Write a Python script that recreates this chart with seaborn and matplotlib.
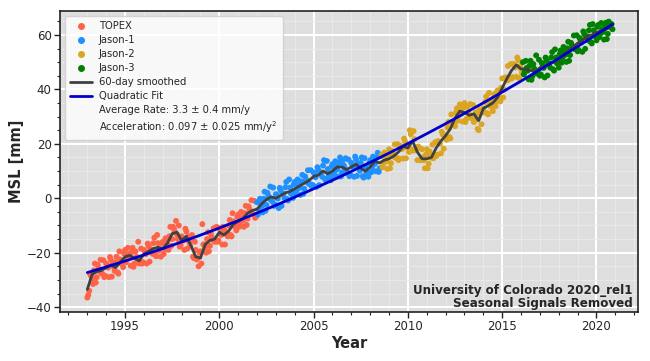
import numpy as np
import pandas as pd
import matplotlib
matplotlib.use("Agg")
import matplotlib.pyplot as plt
from matplotlib.lines import Line2D
from matplotlib.ticker import MultipleLocator
import seaborn as sns

# GMSL cycles: "_a" every 0.1 year from the start,
# "_b" the cycles in between (start + 0.05)
topex_start = 1993.0
topex_msl_a = [-36.5, -34, -28.5, -31.5, -24, -29, -25.8, -22.6, -27.8, -29,
               -24, -25.5, -21.6, -28.8, -25.2, -23.5, -27.2, -19.5, -24, -25.3,
               -19, -22.2, -20.5, -24.8, -18.2, -24, -21.5, -16, -23.5, -24,
               -19, -20.5, -16.7, -23.3, -18.9, -16.5, -20.8, -13.5, -19.3, -21.5,
               -16, -18.7, -16.3, -19, -10.5, -15, -11.5, -8.3, -15, -17.8,
               -14, -15.5, -11.2, -18.5, -16, -15.5, -21.5, -16, -22.5, -25,
               -19.5, -9.5, -17, -20, -12.5, -17.5, -14.3, -11, -15.5, -16,
               -11, -13.5, -10.5, -17, -12.5, -10, -13.5, -5.5, -10.3, -11.8,
               -6, -9, -7.2, -10.5, -2.8, -7.5, -4, -0.7, -5.9, -7.2]
topex_msl_b = [-35.5, -28, -29.5, -26.5, -31, -24.5, -26.8, -27.6, -22.8, -28.5,
               -24.5, -29, -22.6, -24.3, -26.7, -21.5, -27.7, -22.5, -23.5, -20.3,
               -23.5, -18.2, -21.5, -19.8, -25.2, -19.5, -22.5, -24, -18.5, -23.5,
               -19.5, -24, -17.7, -18.8, -20.4, -14.5, -21.3, -16.5, -18.8, -16.5,
               -20.5, -14.7, -17.3, -14, -17.5, -10.5, -12.5, -13.3, -10, -17.3,
               -14.5, -19, -12.2, -14, -17.5, -13.5, -22, -19, -22, -20,
               -24, -17, -18, -15, -19.5, -13, -15.3, -16, -10.5, -15.5,
               -11.5, -17, -11.5, -12.5, -14, -8, -14, -8.5, -9.8, -6.8,
               -10.5, -5, -8.2, -5.5, -9.8, -3, -5, -5.7, -0.9, -6.7]

jason1_start = 2002.0
jason1_msl_a = [-1.5, -4.2, -1.9, -5.2, 2.4, -2.5, 0.9, 4.3, -1.1, -2.8,
                1.5, -0.1, 3.8, -2.8, 1.6, 4, -0.3, 6.9, 1.7, 0.1,
                6, 2.9, 4.8, 1.2, 8.6, 3.5, 6.9, 10.3, 5.3, 4.4,
                9.5, 7.7, 11.4, 4.8, 9.4, 12, 7.1, 13.7, 8.2, 6.6,
                12.5, 9.6, 11.7, 8, 15, 9.5, 12.1, 14.7, 9.2, 8.1,
                13, 11.4, 15.3, 8.2, 11.6, 13, 8.1, 14.7, 9.3, 7.9,
                14, 11.3, 13.6, 9.9, 16.7, 11]
jason1_msl_b = [-6, -0.2, -2.9, -0.2, -4.6, 2, -0.1, -0.7, 3.9, -2.3,
                1, -3.6, 2.8, 1.7, 0.1, 6, -0.8, 3.9, 2.2, 5.1,
                1.5, 6.9, 3.8, 6.2, 1.6, 8, 5.9, 5.3, 10.3, 4.9,
                9, 4.2, 10.4, 9.3, 7.9, 14, 6.6, 10.7, 8.7, 11.6,
                8, 13.6, 10.7, 13, 8, 14, 11.1, 9.7, 14.2, 8.6,
                12.5, 7.9, 14.3, 12.7, 10.1, 15, 7.6, 11.7, 9.8, 12.9,
                9.5, 15.3, 12.6, 14.9, 9.7, 15.5]

jason2_start = 2008.6
jason2_msl_a = [15.9, 12.8, 14.6, 10.8, 18, 12.9, 16.3, 19.8, 14.9, 14,
                19.3, 18.1, 21.9, 14.7, 18.5, 25, 18, 24.7, 17.6, 14,
                18.5, 14, 15, 11, 18, 12.7, 15.9, 19.7, 15.6, 15.5,
                21, 20, 24.4, 18.2, 23, 26, 22.5, 30.8, 26.9, 26.5,
                33, 30.5, 32.4, 28.2, 35, 29.1, 31.7, 34.6, 29.3, 28,
                31.5, 25.5, 32.4, 27.2, 33, 35.4, 31.3, 38.7, 33.6, 32,
                38.3, 35.6, 38.2, 35.6, 44, 39.9, 44.3, 48.6, 44.3, 44,
                49.3, 48.1, 51.7, 44.1, 47.5]
jason2_msl_b = [11.4, 16.8, 13.6, 15.8, 11, 17.4, 15.3, 14.8, 19.9, 14.5,
                18.8, 14.6, 20.9, 19.2, 17, 23.5, 17.5, 21.7, 18.1, 19,
                14, 18, 14, 16, 11, 17.2, 14.9, 14.7, 20.6, 16,
                20.5, 16.5, 23.4, 22.7, 21.5, 28, 22, 27.8, 27.4, 31.5,
                28.5, 34.5, 31.4, 33.2, 28, 33.6, 30.7, 29.6, 34.3, 28.5,
                31, 25, 31.4, 31.7, 31.5, 37.4, 30.8, 35.7, 34.1, 37,
                33.8, 39.6, 37.2, 40.6, 37, 44.4, 43.3, 43.6, 49.3, 44.5,
                48.8, 44.6, 50.7, 48.6, 46]

jason3_start = 2016.1
jason3_msl_a = [50, 46.5, 47.9, 43.7, 50.5, 44.8, 47.6, 52.5, 45.9, 45,
                49.7, 47.9, 51.7, 45.1, 49.5, 51.7, 47.4, 54.7, 49.6, 48,
                54.3, 51.6, 53.7, 50.1, 57.5, 52.6, 56.2, 59.8, 54.9, 54,
                58.9, 57.3, 61.3, 54.9, 59.5, 61.7, 57.4, 64, 59.6, 58,
                63.7, 60.4, 62.1, 58.3, 64.5, 60.4, 63.8, 64]
jason3_msl_b = [45.5, 50.5, 46.9, 48.7, 43.5, 49.3, 46.6, 45.8, 50.9, 45.5,
                49.2, 44.4, 50.7, 49.6, 48, 53.7, 46.9, 51.7, 50.1, 53,
                49.8, 55.6, 52.7, 55.1, 50.5, 57.1, 55.2, 54.8, 59.9, 54.5,
                58.4, 53.8, 60.3, 59.4, 58, 63.7, 56.9, 61.7, 60.1, 63,
                59.2, 64.4, 61.1, 63.3, 58.5, 64.9, 62.8, 62.1]

# 60-day smoothed curve, one value every 0.25 year
smooth_start = 1993.0
smooth_msl = [-33.5, -28, -27, -26.5, -25.5, -24.5, -25.5, -23.5,
              -21.5, -21, -22, -23, -20.5, -19.5, -18.5, -18,
              -18.5, -16.5, -13, -12.5, -15.5, -14, -17.5, -21.5,
              -22, -17, -15.5, -15, -12.5, -13.5, -12, -9.5,
              -8.5, -7.5, -5.5, -4.5, -4, -2, -0.5, 0.5,
              0, 1, 2, 2.5, 3.5, 4.5, 5.5, 6.5,
              8, 8.5, 10, 9, 10, 11.5, 11.5, 10.5,
              11.5, 12.5, 11, 10, 11.5, 13.5, 13, 14,
              14.5, 15.5, 17, 19, 18.5, 21, 17, 14.5,
              14.5, 15, 18.5, 21, 23, 25.5, 29.5, 32,
              31.5, 30.5, 31, 28.5, 33, 34, 35, 37,
              40.5, 44, 47, 49, 47.5, 47.5, 47, 46.5,
              48, 48.5, 49.5, 50, 51, 53, 54, 55.5,
              57, 58, 59.5, 60, 61, 61.5, 62, 63]

missions = ["TOPEX", "Jason-1", "Jason-2", "Jason-3"]
mission_colors = ["tomato", "dodgerblue", "goldenrod", "green"]
rate_text = "Average Rate: 3.3 \u00b1 0.4 mm/y"
accel_text = "Acceleration: 0.097 \u00b1 0.025 mm/y$^2$"

frames = []
for name, start, vals_a, vals_b in zip(
        missions,
        [topex_start, jason1_start, jason2_start, jason3_start],
        [topex_msl_a, jason1_msl_a, jason2_msl_a, jason3_msl_a],
        [topex_msl_b, jason1_msl_b, jason2_msl_b, jason3_msl_b]):
    years_a = start + 0.1 * np.arange(len(vals_a))
    years_b = start + 0.05 + 0.1 * np.arange(len(vals_b))
    frames.append(pd.DataFrame({"year": years_a, "msl": vals_a, "mission": name}))
    frames.append(pd.DataFrame({"year": years_b, "msl": vals_b, "mission": name}))
df = pd.concat(frames, ignore_index=True)

smooth_years = smooth_start + 0.25 * np.arange(len(smooth_msl))

# quadratic fit of all cycles
coef = np.polyfit(df["year"], df["msl"], 2)
fit_years = np.sort(df["year"].values)
fit_msl = np.polyval(coef, fit_years)

sns.set_theme(style="darkgrid", rc={"axes.facecolor": "#dedede"})
plt.rcParams["font.family"] = ["DejaVu Sans"]

fig = plt.figure(figsize=(6.5, 3.61), dpi=100)
ax = fig.add_axes([0.0923, 0.1357, 0.8892, 0.8338])

sns.scatterplot(data=df, x="year", y="msl", hue="mission",
                palette=dict(zip(missions, mission_colors)),
                s=18, linewidth=0, legend=False, ax=ax, zorder=2)
sns.lineplot(x=smooth_years, y=smooth_msl, color="#404040", lw=2,
             estimator=None, ax=ax, zorder=3)
sns.lineplot(x=fit_years, y=fit_msl, color="mediumblue", lw=2,
             estimator=None, ax=ax, zorder=4)

ax.set_xlim(1991.55, 2022.2)
ax.set_ylim(-41.8, 68.8)
ax.xaxis.set_major_locator(MultipleLocator(5))
ax.xaxis.set_minor_locator(MultipleLocator(1))
ax.yaxis.set_major_locator(MultipleLocator(20))
ax.yaxis.set_minor_locator(MultipleLocator(5))
ax.grid(which="major", color="white", lw=1.5)
ax.grid(which="minor", color="#ebebeb", lw=0.6)
ax.set_axisbelow(True)

for sp in ax.spines.values():
    sp.set_visible(True)
    sp.set_color("#222222")
    sp.set_linewidth(1.2)
ax.tick_params(which="both", bottom=True, left=True, direction="out",
               color="#222222", labelsize=8.5, pad=2)
ax.tick_params(which="major", length=4, width=1)
ax.tick_params(which="minor", length=2, width=0.8)

ax.set_xlabel("Year", fontsize=10.5, fontweight="bold", labelpad=2)
ax.set_ylabel("MSL [mm]", fontsize=10.5, fontweight="bold", labelpad=2)

handles = [Line2D([], [], marker="o", ls="", color=c, markersize=4) for c in mission_colors]
handles += [Line2D([], [], color="#404040", lw=2),
            Line2D([], [], color="mediumblue", lw=2),
            Line2D([], [], ls="", marker=""),
            Line2D([], [], ls="", marker="")]
labels = missions + ["60-day smoothed", "Quadratic Fit", rate_text, accel_text]
ax.legend(handles, labels, loc="upper left", fontsize=7.2, frameon=True,
          framealpha=0.8, facecolor="white", edgecolor="#cccccc",
          labelspacing=0.4, handlelength=2.2, handletextpad=0.7, borderpad=0.5)

ax.text(0.991, 0.006, "University of Colorado 2020_rel1\nSeasonal Signals Removed",
        transform=ax.transAxes, ha="right", va="bottom", fontsize=8.6,
        fontweight="bold", linespacing=1.0, zorder=5)

fig.savefig("out.png", dpi=100)
